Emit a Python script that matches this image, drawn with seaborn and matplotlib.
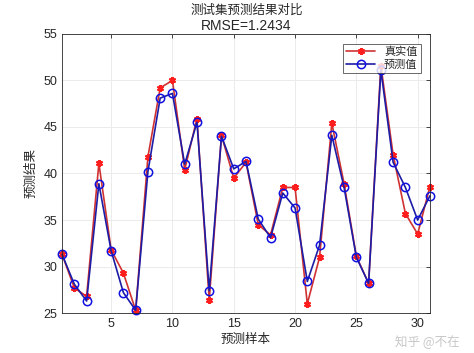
import matplotlib
matplotlib.use('Agg')
import matplotlib.pyplot as plt
import pandas as pd
import numpy as np
import seaborn as sns

# test-set predictions vs. true values
samples = list(range(1, 32))
true_vals = [31.3, 27.7, 26.8, 41.1, 31.8, 29.3, 25.3, 41.8, 49.2, 50.0,
             40.4, 45.9, 26.4, 44.1, 39.5, 41.2, 34.5, 33.4, 38.5, 38.5,
             26.0, 31.0, 45.4, 38.9, 31.1, 28.2, 51.6, 42.0, 35.7, 33.5, 38.6]
pred_vals = [31.3, 28.1, 26.3, 38.9, 31.7, 27.2, 25.3, 40.2, 48.1, 48.6,
             41.0, 45.5, 27.4, 44.0, 40.5, 41.3, 35.1, 33.1, 37.9, 36.3,
             28.4, 32.3, 44.1, 38.5, 31.0, 28.2, 51.1, 41.2, 38.5, 35.0, 37.6]
rmse = 1.2434

df = pd.DataFrame({'sample': samples, 'true': true_vals, 'pred': pred_vals})

sns.set_style('white')
plt.rcParams['font.family'] = ['Noto Sans CJK SC', 'DejaVu Sans']

fig = plt.figure(figsize=(4.74, 3.53), dpi=100)
ax = fig.add_axes([0.131, 0.113, 0.776, 0.791])

sns.lineplot(data=df, x='sample', y='true', ax=ax, color='#d03232', lw=1.2,
             marker=(6, 2, 0), markersize=5, markeredgewidth=1.5,
             markeredgecolor='#ff1e1e', label='真实值', clip_on=False)
sns.lineplot(data=df, x='sample', y='pred', ax=ax, color='#1c1ca6', lw=1.2,
             marker='o', markersize=6, markerfacecolor='none', markeredgewidth=1.1,
             markeredgecolor='#1010e0', label='预测值', clip_on=False)

ax.set_xlim(1, 31)
ax.set_ylim(25, 55)
ax.set_xticks([5, 10, 15, 20, 25, 30])
ax.set_yticks(np.arange(25, 56, 5))
ax.grid(True, color='#ebebeb', lw=0.7)
ax.tick_params(direction='in', top=True, right=True, length=3, labelsize=9,
               colors='#262626', width=0.6)
for s in ax.spines.values():
    s.set_color('#262626')
    s.set_linewidth(0.6)
    s.set_visible(True)
for lab in ax.get_xticklabels() + ax.get_yticklabels():
    lab.set_family('Liberation Sans')

ax.set_xlabel('预测样本', fontsize=9, labelpad=2)
ax.set_ylabel('预测结果', fontsize=9, labelpad=4)
fig.text(0.52, 0.972, '测试集预测结果对比', ha='center', va='center',
         fontsize=9, color='#262626')
fig.text(0.52, 0.925, f'RMSE={rmse}', ha='center', va='center',
         fontsize=10, family='Liberation Sans', color='#262626')

leg = ax.legend(loc='upper right', fontsize=8, frameon=True, fancybox=False,
                borderpad=0.3, handlelength=2.6, labelspacing=0.2,
                bbox_to_anchor=(0.99, 0.985))
leg.get_frame().set_edgecolor('#262626')
leg.get_frame().set_linewidth(0.6)

fig.text(0.97, 0.01, '知乎 @不在', ha='right', va='bottom', fontsize=9,
         color='#c8c8c8')

fig.savefig('out.png', dpi=100)
